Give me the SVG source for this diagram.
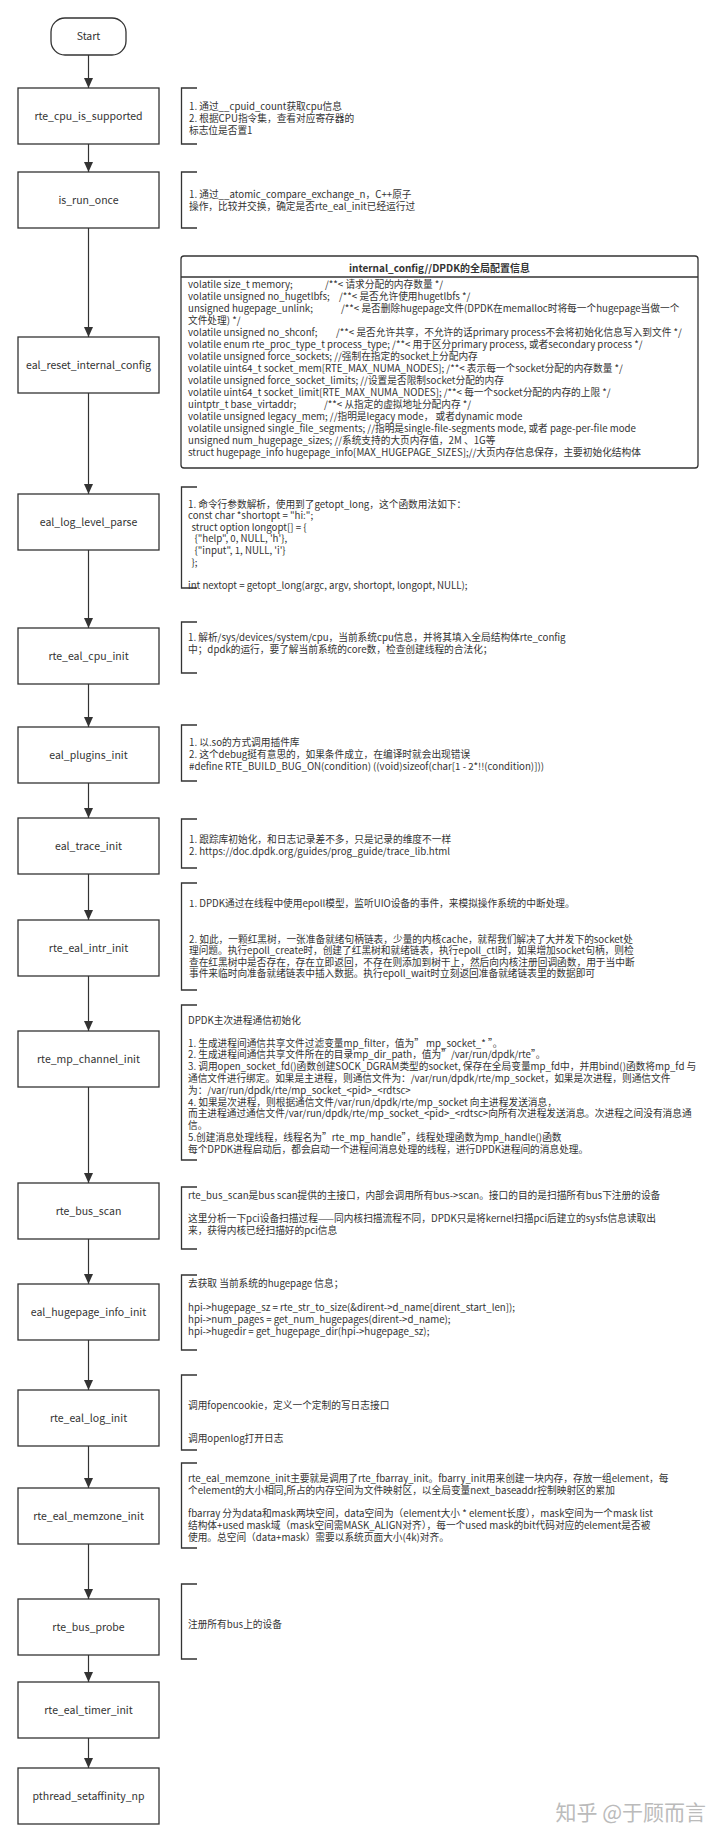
<svg xmlns="http://www.w3.org/2000/svg" width="720" height="1842" viewBox="0 0 720 1842">
<style>
text{font-family:"Noto Sans CJK SC","Liberation Sans",sans-serif;fill:#333;}
.node rect{fill:#fff;stroke:#333;stroke-width:1.3;}
.lbl{font-size:10.5px;text-anchor:middle;}
.note{font-size:9.7px;}
.br{fill:none;stroke:#333;stroke-width:1.3;}
.conn line{stroke:#333;stroke-width:1.2;marker-end:url(#arr);}
.title{font-size:10px;font-weight:bold;text-anchor:middle;}
.wm{font-size:21px;fill:#bbb;text-anchor:end;}
</style>
<defs>
<marker id="arr" markerUnits="userSpaceOnUse" markerWidth="10" markerHeight="9" refX="10" refY="4.5" orient="auto">
<path d="M0,0 L10,4.5 L0,9 z" fill="#333"/>
</marker>
</defs>
<rect width="720" height="1842" fill="#fff"/>
<g id="connectors" class="conn">
<line x1="88.5" y1="55" x2="88.5" y2="88"/>
<line x1="88.5" y1="144" x2="88.5" y2="172"/>
<line x1="88.5" y1="228" x2="88.5" y2="337"/>
<line x1="88.5" y1="393" x2="88.5" y2="494"/>
<line x1="88.5" y1="550" x2="88.5" y2="628"/>
<line x1="88.5" y1="684" x2="88.5" y2="727"/>
<line x1="88.5" y1="783" x2="88.5" y2="818"/>
<line x1="88.5" y1="874" x2="88.5" y2="920"/>
<line x1="88.5" y1="976" x2="88.5" y2="1031"/>
<line x1="88.5" y1="1087" x2="88.5" y2="1183"/>
<line x1="88.5" y1="1239" x2="88.5" y2="1284"/>
<line x1="88.5" y1="1340" x2="88.5" y2="1390"/>
<line x1="88.5" y1="1446" x2="88.5" y2="1488"/>
<line x1="88.5" y1="1544" x2="88.5" y2="1599"/>
<line x1="88.5" y1="1655" x2="88.5" y2="1682"/>
<line x1="88.5" y1="1738" x2="88.5" y2="1768"/>
</g>
<g id="start" class="node"><rect x="51" y="18" width="75" height="37" rx="14"/><text class="lbl" x="88.5" y="40">Start</text></g>
<g id="rte_cpu_is_supported" class="node"><rect x="18" y="88" width="141" height="56"/><text class="lbl" x="88.5" y="119.5">rte_cpu_is_supported</text></g>
<g id="is_run_once" class="node"><rect x="18" y="172" width="141" height="56"/><text class="lbl" x="88.5" y="203.5">is_run_once</text></g>
<g id="eal_reset_internal_config" class="node"><rect x="18" y="337" width="141" height="56"/><text class="lbl" x="88.5" y="368.5">eal_reset_internal_config</text></g>
<g id="eal_log_level_parse" class="node"><rect x="18" y="494" width="141" height="56"/><text class="lbl" x="88.5" y="525.5">eal_log_level_parse</text></g>
<g id="rte_eal_cpu_init" class="node"><rect x="18" y="628" width="141" height="56"/><text class="lbl" x="88.5" y="659.5">rte_eal_cpu_init</text></g>
<g id="eal_plugins_init" class="node"><rect x="18" y="727" width="141" height="56"/><text class="lbl" x="88.5" y="758.5">eal_plugins_init</text></g>
<g id="eal_trace_init" class="node"><rect x="18" y="818" width="141" height="56"/><text class="lbl" x="88.5" y="849.5">eal_trace_init</text></g>
<g id="rte_eal_intr_init" class="node"><rect x="18" y="920" width="141" height="56"/><text class="lbl" x="88.5" y="951.5">rte_eal_intr_init</text></g>
<g id="rte_mp_channel_init" class="node"><rect x="18" y="1031" width="141" height="56"/><text class="lbl" x="88.5" y="1062.5">rte_mp_channel_init</text></g>
<g id="rte_bus_scan" class="node"><rect x="18" y="1183" width="141" height="56"/><text class="lbl" x="88.5" y="1214.5">rte_bus_scan</text></g>
<g id="eal_hugepage_info_init" class="node"><rect x="18" y="1284" width="141" height="56"/><text class="lbl" x="88.5" y="1315.5">eal_hugepage_info_init</text></g>
<g id="rte_eal_log_init" class="node"><rect x="18" y="1390" width="141" height="56"/><text class="lbl" x="88.5" y="1421.5">rte_eal_log_init</text></g>
<g id="rte_eal_memzone_init" class="node"><rect x="18" y="1488" width="141" height="56"/><text class="lbl" x="88.5" y="1519.5">rte_eal_memzone_init</text></g>
<g id="rte_bus_probe" class="node"><rect x="18" y="1599" width="141" height="56"/><text class="lbl" x="88.5" y="1630.5">rte_bus_probe</text></g>
<g id="rte_eal_timer_init" class="node"><rect x="18" y="1682" width="141" height="56"/><text class="lbl" x="88.5" y="1713.5">rte_eal_timer_init</text></g>
<g id="pthread_setaffinity_np" class="node"><rect x="18" y="1768" width="141" height="56"/><text class="lbl" x="88.5" y="1799.5">pthread_setaffinity_np</text></g>

<g id="note_cpu">
<path class="br" d="M197,88 H181.5 V144 H197"/>
<text class="note"><tspan x="189" y="109.5">1. 通过__cpuid_count获取cpu信息</tspan><tspan x="189" y="121.5">2. 根据CPU指令集，查看对应寄存器的</tspan><tspan x="189" y="133.5">标志位是否置1</tspan></text>
</g>
<g id="note_run_once">
<path class="br" d="M197,172 H181.5 V228 H197"/>
<text class="note"><tspan x="189" y="198">1. 通过__atomic_compare_exchange_n，C++原子</tspan><tspan x="189" y="210">操作，比较并交换，确定是否rte_eal_init已经运行过</tspan></text>
</g>
<g id="internal_config">
<rect x="181" y="256" width="517" height="212" rx="3" fill="#fff" stroke="#333" stroke-width="1.3"/>
<line x1="181" y1="277" x2="698" y2="277" stroke="#333" stroke-width="1.3"/>
<text class="title" x="439.5" y="271.5">internal_config//DPDK的全局配置信息</text>
<text class="note">
<tspan x="188" y="288">volatile size_t memory;</tspan><tspan x="325" y="288">/**&lt; 请求分配的内存数量 */</tspan>
<tspan x="188" y="300">volatile unsigned no_hugetlbfs;</tspan><tspan x="339" y="300">/**&lt; 是否允许使用hugetlbfs */</tspan>
<tspan x="188" y="312">unsigned hugepage_unlink;</tspan><tspan x="341" y="312">/**&lt; 是否删除hugepage文件(DPDK在memalloc时将每一个hugepage当做一个</tspan>
<tspan x="188" y="324">文件处理) */</tspan>
<tspan x="188" y="336">volatile unsigned no_shconf;</tspan><tspan x="336" y="336">/**&lt; 是否允许共享，不允许的话primary process不会将初始化信息写入到文件 */</tspan>
<tspan x="188" y="348">volatile enum rte_proc_type_t process_type; /**&lt; 用于区分primary process, 或者secondary process */</tspan>
<tspan x="188" y="360">volatile unsigned force_sockets; //强制在指定的socket上分配内存</tspan>
<tspan x="188" y="372">volatile uint64_t socket_mem[RTE_MAX_NUMA_NODES]; /**&lt; 表示每一个socket分配的内存数量 */</tspan>
<tspan x="188" y="384">volatile unsigned force_socket_limits; //设置是否限制socket分配的内存</tspan>
<tspan x="188" y="396">volatile uint64_t socket_limit[RTE_MAX_NUMA_NODES]; /**&lt; 每一个socket分配的内存的上限 */</tspan>
<tspan x="188" y="408">uintptr_t base_virtaddr;</tspan><tspan x="324" y="408">/**&lt; 从指定的虚拟地址分配内存 */</tspan>
<tspan x="188" y="420">volatile unsigned legacy_mem; //指明是legacy mode， 或者dynamic mode</tspan>
<tspan x="188" y="432">volatile unsigned single_file_segments; //指明是single-file-segments mode, 或者 page-per-file mode</tspan>
<tspan x="188" y="444">unsigned num_hugepage_sizes;  //系统支持的大页内存值，2M 、1G等</tspan>
<tspan x="188" y="456">struct hugepage_info hugepage_info[MAX_HUGEPAGE_SIZES];//大页内存信息保存，主要初始化结构体</tspan>
</text>
</g>
<g id="note_log_level">
<path class="br" d="M197,487 H181.5 V588 H197"/>
<text class="note"><tspan x="188" y="507.5">1. 命令行参数解析，使用到了getopt_long，这个函数用法如下：</tspan><tspan x="188" y="518.5">const char *shortopt = "hi:";</tspan><tspan x="191.5" y="530.5">struct option longopt[] = {</tspan><tspan x="194.5" y="541.5">{"help", 0, NULL, 'h'},</tspan><tspan x="194.5" y="553.5">{"input", 1, NULL, 'i'}</tspan><tspan x="191.5" y="565.5">};</tspan><tspan x="188" y="588.5">int nextopt = getopt_long(argc, argv, shortopt, longopt, NULL);</tspan></text>
</g>
<g id="note_cpu_init">
<path class="br" d="M197,622 H181.5 V673 H197"/>
<text class="note"><tspan x="188" y="640.5">1. 解析/sys/devices/system/cpu，当前系统cpu信息，并将其填入全局结构体rte_config</tspan><tspan x="188" y="652.5">中；dpdk的运行，要了解当前系统的core数，检查创建线程的合法化；</tspan></text>
</g>
<g id="note_plugins">
<path class="br" d="M197,725 H181.5 V781 H197"/>
<text class="note"><tspan x="189" y="745.5">1. 以.so的方式调用插件库</tspan><tspan x="189" y="757.5">2. 这个debug挺有意思的，如果条件成立，在编译时就会出现错误</tspan><tspan x="189" y="769.5">#define RTE_BUILD_BUG_ON(condition) ((void)sizeof(char[1 - 2*!!(condition)]))</tspan></text>
</g>
<g id="note_trace">
<path class="br" d="M197,819 H181.5 V868 H197"/>
<text class="note"><tspan x="189" y="842.5">1. 跟踪库初始化，和日志记录差不多，只是记录的维度不一样</tspan><tspan x="189" y="854.5">2. https://doc.dpdk.org/guides/prog_guide/trace_lib.html</tspan></text>
</g>
<g id="note_intr">
<path class="br" d="M197,883 H181.5 V990 H197"/>
<text class="note"><tspan x="189" y="906.5">1. DPDK通过在线程中使用epoll模型，监听UIO设备的事件，来模拟操作系统的中断处理。</tspan><tspan x="189" y="942.5">2. 如此，一颗红黑树，一张准备就绪句柄链表，少量的内核cache，就帮我们解决了大并发下的socket处</tspan><tspan x="189" y="954">理问题。执行epoll_create时，创建了红黑树和就绪链表，执行epoll_ctl时，如果增加socket句柄，则检</tspan><tspan x="189" y="965.5">查在红黑树中是否存在，存在立即返回，不存在则添加到树干上，然后向内核注册回调函数，用于当中断</tspan><tspan x="189" y="977">事件来临时向准备就绪链表中插入数据。执行epoll_wait时立刻返回准备就绪链表里的数据即可</tspan></text>
</g>
<g id="note_mp_channel">
<path class="br" d="M197,1005 H181.5 V1160 H197"/>
<text class="note"><tspan x="188" y="1023.5">DPDK主次进程通信初始化</tspan><tspan x="188" y="1046.5">1. 生成进程间通信共享文件过滤变量mp_filter，值为” mp_socket_* ”。</tspan><tspan x="188" y="1058.3">2. 生成进程间通信共享文件所在的目录mp_dir_path，值为”/var/run/dpdk/rte”。</tspan><tspan x="188" y="1070.1">3. 调用open_socket_fd()函数创建SOCK_DGRAM类型的socket, 保存在全局变量mp_fd中，并用bind()函数将mp_fd 与</tspan><tspan x="188" y="1081.9">通信文件进行绑定。如果是主进程，则通信文件为：/var/run/dpdk/rte/mp_socket，如果是次进程，则通信文件</tspan><tspan x="188" y="1093.7">为：/var/run/dpdk/rte/mp_socket_&lt;pid&gt;_&lt;rdtsc&gt;</tspan><tspan x="188" y="1105.5">4. 如果是次进程，则根据通信文件/var/run/dpdk/rte/mp_socket 向主进程发送消息，</tspan><tspan x="188" y="1117.3">而主进程通过通信文件/var/run/dpdk/rte/mp_socket_&lt;pid&gt;_&lt;rdtsc&gt;向所有次进程发送消息。次进程之间没有消息通</tspan><tspan x="188" y="1129.1">信。</tspan><tspan x="188" y="1140.9">5.创建消息处理线程，线程名为”rte_mp_handle”，线程处理函数为mp_handle()函数</tspan><tspan x="188" y="1152.7">每个DPDK进程启动后，都会启动一个进程间消息处理的线程，进行DPDK进程间的消息处理。</tspan></text>
</g>
<g id="note_bus_scan">
<path class="br" d="M197,1187 H181.5 V1249 H197"/>
<text class="note"><tspan x="188" y="1198.5">rte_bus_scan是bus scan提供的主接口，内部会调用所有bus-&gt;scan。接口的目的是扫描所有bus下注册的设备</tspan><tspan x="188" y="1221.5">这里分析一下pci设备扫描过程——同内核扫描流程不同，DPDK只是将kernel扫描pci后建立的sysfs信息读取出</tspan><tspan x="188" y="1233.5">来，获得内核已经扫描好的pci信息</tspan></text>
</g>
<g id="note_hugepage">
<path class="br" d="M197,1275 H181.5 V1350 H197"/>
<text class="note"><tspan x="188" y="1286.5">去获取 当前系统的hugepage 信息；</tspan><tspan x="188" y="1310.5">hpi-&gt;hugepage_sz = rte_str_to_size(&amp;dirent-&gt;d_name[dirent_start_len]);</tspan><tspan x="188" y="1322.5">hpi-&gt;num_pages = get_num_hugepages(dirent-&gt;d_name);</tspan><tspan x="188" y="1334.5">hpi-&gt;hugedir = get_hugepage_dir(hpi-&gt;hugepage_sz);</tspan></text>
</g>
<g id="note_log_init">
<path class="br" d="M197,1375 H181.5 V1450 H197"/>
<text class="note"><tspan x="188" y="1408.5">调用fopencookie，定义一个定制的写日志接口</tspan><tspan x="188" y="1441.5">调用openlog打开日志</tspan></text>
</g>
<g id="note_memzone">
<path class="br" d="M197,1463 H181.5 V1548 H197"/>
<text class="note"><tspan x="188" y="1481.5">rte_eal_memzone_init主要就是调用了rte_fbarray_init。fbarry_init用来创建一块内存，存放一组element，每</tspan><tspan x="188" y="1493.5">个element的大小相同,所占的内存空间为文件映射区，以全局变量next_baseaddr控制映射区的累加</tspan><tspan x="188" y="1516.5">fbarray 分为data和mask两块空间，data空间为（element大小 * element长度），mask空间为一个mask list</tspan><tspan x="188" y="1528.5">结构体+used mask域（mask空间需MASK_ALIGN对齐），每一个used mask的bit代码对应的element是否被</tspan><tspan x="188" y="1540.5">使用。总空间（data+mask）需要以系统页面大小(4k)对齐。</tspan></text>
</g>
<g id="note_bus_probe">
<path class="br" d="M197,1584 H181.5 V1659 H197"/>
<text class="note"><tspan x="188" y="1627.5">注册所有bus上的设备</tspan></text>
</g>
<text class="wm" x="706" y="1820">知乎 @于顾而言</text>
</svg>
